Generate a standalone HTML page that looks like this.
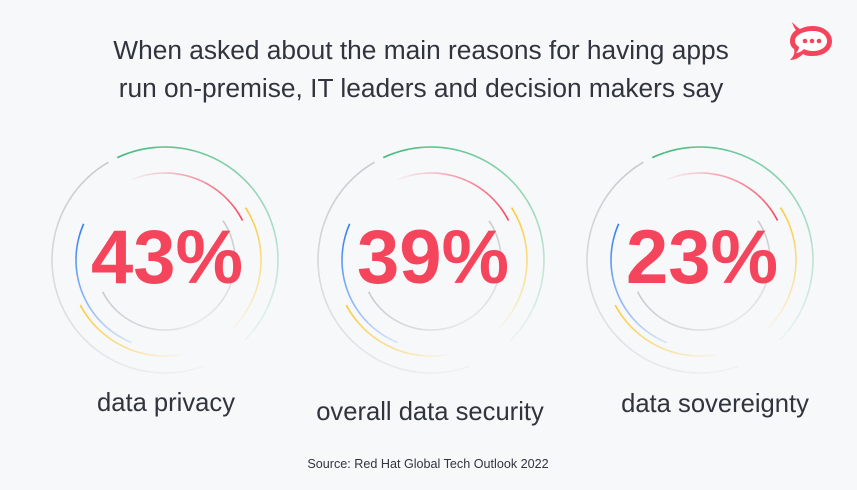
<!DOCTYPE html>
<html><head><meta charset="utf-8"><style>
body{margin:0;background:#f7f8fa;}
svg{display:block}
text{font-family:"Liberation Sans",sans-serif}
</style></head><body>
<svg id="s" width="857" height="490" viewBox="0 0 857 490">
<rect width="857" height="490" fill="#f7f8fa"/>
<text x="421" y="59" text-anchor="middle" font-size="26.3" fill="#2f343d">When asked about the main reasons for having apps</text>
<text x="421" y="97" text-anchor="middle" font-size="26.3" fill="#2f343d">run on-premise, IT leaders and decision makers say</text>
<g id="arcs"></g>
<g font-weight="bold" font-size="76" fill="#f5455c" text-anchor="middle">
<text x="167" y="283">43%</text>
<text x="433" y="283">39%</text>
<text x="702" y="283">23%</text>
</g>
<g font-size="25.6" fill="#2f343d" text-anchor="middle">
<text x="166" y="411">data privacy</text>
<text x="430" y="420">overall data security</text>
<text x="715" y="412">data sovereignty</text>
</g>
<text x="428" y="468" text-anchor="middle" font-size="12.6" fill="#2f343d">Source: Red Hat Global Tech Outlook 2022</text>
<g transform="translate(786,20)">
<path d="M6 2 C10 6 12 8 14 9 C18 7 22 6 27 6 C38 6 46 13 46 21 C46 30 38 36 27 36 C23 36 20 36 17 34 C13 38 9 40 4 40 C8 36 9 33 8 29 C5 27 4 24 4 21 C4 16 7 12 10 10 C8 8 7 5 6 2 Z" fill="#f5455c"/>
<path d="M27 11 C35 11 41 15 41 21 C41 27 35 31 27 31 C23 31 20 30 18 29 C16 31 13 33 10 33 C12 31 13 29 13 27 C10 25 9 23 9 21 C9 15 17 11 27 11 Z" fill="#fff"/>
<circle cx="19" cy="21" r="2.3" fill="#f5455c"/><circle cx="26" cy="21" r="2.3" fill="#f5455c"/><circle cx="33" cy="21" r="2.3" fill="#f5455c"/>
</g>
</svg>
<script>
var g=document.getElementById('arcs');
var centers=[[165,260],[431,260],[700,260]];
var arcs=[
[113,240,70,'#c8c9cc',1,0.1,1.6],
[113,-115,45,'#3fb97a',1,0.05,1.6],
[87,-112,-27,'#f5455c',0.05,1,1.6],
[96,-33,45,'#fcc934',1,0.05,1.6],
[96,152,80,'#fcc934',1,0.05,1.6],
[89,204,112,'#2f7cf2',1,0.15,1.6],
[70,153,60,'#c8c9cc',1,0.3,1.6],
[70,60,-34,'#c8c9cc',0.3,1,1.6]
];
var h='';
centers.forEach(function(c){
arcs.forEach(function(a){
var n=24;
for(var i=0;i<n;i++){
var t0=a[1]+(a[2]-a[1])*i/n,t1=a[1]+(a[2]-a[1])*(i+1)/n;
var op=a[4]+(a[5]-a[4])*(i+0.5)/n;
var r0=t0*Math.PI/180,r1=t1*Math.PI/180;
var x0=c[0]+a[0]*Math.cos(r0),y0=c[1]+a[0]*Math.sin(r0);
var x1=c[0]+a[0]*Math.cos(r1),y1=c[1]+a[0]*Math.sin(r1);
var sw=t1>t0?1:0;
h+='<path d="M'+x0.toFixed(2)+' '+y0.toFixed(2)+' A'+a[0]+' '+a[0]+' 0 0 '+sw+' '+x1.toFixed(2)+' '+y1.toFixed(2)+'" fill="none" stroke="'+a[3]+'" stroke-opacity="'+op.toFixed(2)+'" stroke-width="'+a[6]+'"/>';
}});});
g.innerHTML=h;
</script>
</body></html>
